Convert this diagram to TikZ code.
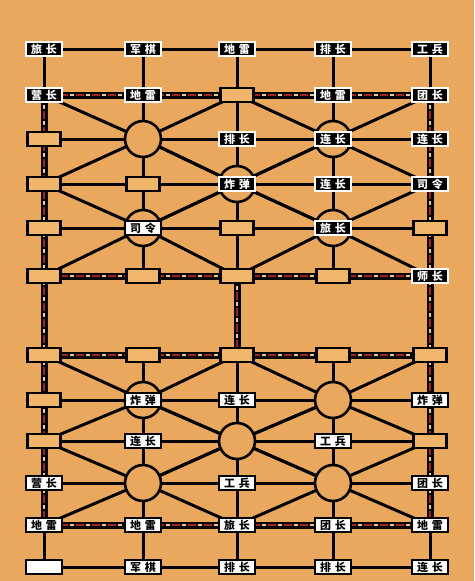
\documentclass[tikz,border=0pt]{standalone}
\usepackage{fontspec}
\newfontfamily\cjk{Noto Sans CJK SC}
\pgfdeclarelayer{bg}
\pgfsetlayers{bg,main}
\definecolor{sand}{RGB}{233,168,94}
\definecolor{emptyfill}{RGB}{240,182,108}
\definecolor{railred}{RGB}{160,35,35}
\definecolor{railcream}{RGB}{232,200,150}
\newcommand\tw[2]{#1\hspace{4pt}#2}
\tikzset{
  road/.style={line width=3pt, black},
  emptybox/.style={rectangle, draw=black, line width=2.4pt, fill=emptyfill, minimum width=33pt, minimum height=14pt, inner sep=0pt},
  campc/.style={circle, draw=black, line width=2.6pt, fill=sand, minimum size=36pt, inner sep=0pt},
  tp/.style={rectangle, draw=white, fill=black, text=white, line width=2.2pt, minimum width=36pt, minimum height=14pt, inner sep=0pt, font=\cjk\bfseries\fontsize{11}{11}\selectfont},
  bp/.style={rectangle, draw=black, fill=white, text=black, line width=2.4pt, minimum width=36pt, minimum height=14pt, inner sep=0pt, font=\cjk\bfseries\fontsize{11}{11}\selectfont},
}
\newcommand\rail[2]{%
  \draw[line width=7pt, black] (#1.center) -- (#2.center);
  \draw[line width=2.2pt, railred, dash pattern=on 8pt off 8pt] (#1.center) -- (#2.center);
  \draw[line width=2.2pt, railcream, dash pattern=on 4pt off 12pt, dash phase=6pt] (#1.center) -- (#2.center);
}
\begin{document}
\begin{tikzpicture}[x=1pt,y=-1pt]
\begin{pgfonlayer}{bg}
\fill[sand] (0,0) rectangle (474,581);
\end{pgfonlayer}
\useasboundingbox (0,0) rectangle (474,581);
% row 1
\node[tp] (P1-1) at (44,49) {\tw{旅}{长}};
\node[tp] (P1-2) at (143,49) {\tw{军}{棋}};
\node[tp] (P1-3) at (237,49) {\tw{地}{雷}};
\node[tp] (P1-4) at (333,49) {\tw{排}{长}};
\node[tp] (P1-5) at (430,49) {\tw{工}{兵}};
% row 2
\node[tp] (P2-1) at (44,95) {\tw{营}{长}};
\node[tp] (P2-2) at (143,95) {\tw{地}{雷}};
\node[emptybox] (P2-3) at (237,95) {};
\node[tp] (P2-4) at (333,95) {\tw{地}{雷}};
\node[tp] (P2-5) at (430,95) {\tw{团}{长}};
% row 3
\node[emptybox] (P3-1) at (44,139) {};
\node[campc] (P3-2) at (143,139) {};
\node[tp] (P3-3) at (237,139) {\tw{排}{长}};
\node[campc] (P3-4) at (333,139) {};
\node[tp] (L3-4) at (P3-4) {\tw{连}{长}};
\node[tp] (P3-5) at (430,139) {\tw{连}{长}};
% row 4
\node[emptybox] (P4-1) at (44,184) {};
\node[emptybox] (P4-2) at (143,184) {};
\node[campc] (P4-3) at (237,184) {};
\node[tp] (L4-3) at (P4-3) {\tw{炸}{弹}};
\node[tp] (P4-4) at (333,184) {\tw{连}{长}};
\node[tp] (P4-5) at (430,184) {\tw{司}{令}};
% row 5
\node[emptybox] (P5-1) at (44,228) {};
\node[campc] (P5-2) at (143,228) {};
\node[bp] (L5-2) at (P5-2) {\tw{司}{令}};
\node[emptybox] (P5-3) at (237,228) {};
\node[campc] (P5-4) at (333,228) {};
\node[tp] (L5-4) at (P5-4) {\tw{旅}{长}};
\node[emptybox] (P5-5) at (430,228) {};
% row 6
\node[emptybox] (P6-1) at (44,276) {};
\node[emptybox] (P6-2) at (143,276) {};
\node[emptybox] (P6-3) at (237,276) {};
\node[emptybox] (P6-4) at (333,276) {};
\node[tp] (P6-5) at (430,276) {\tw{师}{长}};
% row 7
\node[emptybox] (P7-1) at (44,355) {};
\node[emptybox] (P7-2) at (143,355) {};
\node[emptybox] (P7-3) at (237,355) {};
\node[emptybox] (P7-4) at (333,355) {};
\node[emptybox] (P7-5) at (430,355) {};
% row 8
\node[emptybox] (P8-1) at (44,400) {};
\node[campc] (P8-2) at (143,400) {};
\node[bp] (L8-2) at (P8-2) {\tw{炸}{弹}};
\node[bp] (P8-3) at (237,400) {\tw{连}{长}};
\node[campc] (P8-4) at (333,400) {};
\node[bp] (P8-5) at (430,400) {\tw{炸}{弹}};
% row 9
\node[emptybox] (P9-1) at (44,441) {};
\node[bp] (P9-2) at (143,441) {\tw{连}{长}};
\node[campc] (P9-3) at (237,441) {};
\node[bp] (P9-4) at (333,441) {\tw{工}{兵}};
\node[emptybox] (P9-5) at (430,441) {};
% row 10
\node[bp] (P10-1) at (44,483) {\tw{营}{长}};
\node[campc] (P10-2) at (143,483) {};
\node[bp] (P10-3) at (237,483) {\tw{工}{兵}};
\node[campc] (P10-4) at (333,483) {};
\node[bp] (P10-5) at (430,483) {\tw{团}{长}};
% row 11
\node[bp] (P11-1) at (44,525) {\tw{地}{雷}};
\node[bp] (P11-2) at (143,525) {\tw{地}{雷}};
\node[bp] (P11-3) at (237,525) {\tw{旅}{长}};
\node[bp] (P11-4) at (333,525) {\tw{团}{长}};
\node[bp] (P11-5) at (430,525) {\tw{地}{雷}};
% row 12
\node[bp] (P12-1) at (44,567) {};
\node[bp] (P12-2) at (143,567) {\tw{军}{棋}};
\node[bp] (P12-3) at (237,567) {\tw{排}{长}};
\node[bp] (P12-4) at (333,567) {\tw{排}{长}};
\node[bp] (P12-5) at (430,567) {\tw{连}{长}};

\begin{pgfonlayer}{bg}
% roads
\draw[road] (P1-1.center) -- (P1-2.center) -- (P1-3.center) -- (P1-4.center) -- (P1-5.center);
\draw[road] (P12-1.center) -- (P12-2.center) -- (P12-3.center) -- (P12-4.center) -- (P12-5.center);
\foreach \c in {1,...,5}{
  \draw[road] (P1-\c.center) -- (P2-\c.center);
  \draw[road] (P11-\c.center) -- (P12-\c.center);
}
\foreach \c in {2,3,4}{
  \draw[road] (P2-\c.center) -- (P3-\c.center) -- (P4-\c.center) -- (P5-\c.center) -- (P6-\c.center);
  \draw[road] (P7-\c.center) -- (P8-\c.center) -- (P9-\c.center) -- (P10-\c.center) -- (P11-\c.center);
}
\foreach \r in {3,4,5,8,9,10}{
  \draw[road] (P\r-1.center) -- (P\r-2.center) -- (P\r-3.center) -- (P\r-4.center) -- (P\r-5.center);
}
\foreach \r/\c in {3/2,3/4,4/3,5/2,5/4,8/2,8/4,9/3,10/2,10/4}{
  \pgfmathtruncatemacro\rU{\r-1}
  \pgfmathtruncatemacro\rD{\r+1}
  \pgfmathtruncatemacro\cL{\c-1}
  \pgfmathtruncatemacro\cR{\c+1}
  \draw[road] (P\rU-\cL.center) -- (P\r-\c.center) -- (P\rD-\cR.center);
  \draw[road] (P\rU-\cR.center) -- (P\r-\c.center) -- (P\rD-\cL.center);
}
% railways
\rail{P2-1}{P2-5}
\rail{P6-1}{P6-5}
\rail{P7-1}{P7-5}
\rail{P11-1}{P11-5}
\rail{P2-1}{P11-1}
\rail{P2-5}{P11-5}
\rail{P6-3}{P7-3}
\end{pgfonlayer}
\end{tikzpicture}
\end{document}
